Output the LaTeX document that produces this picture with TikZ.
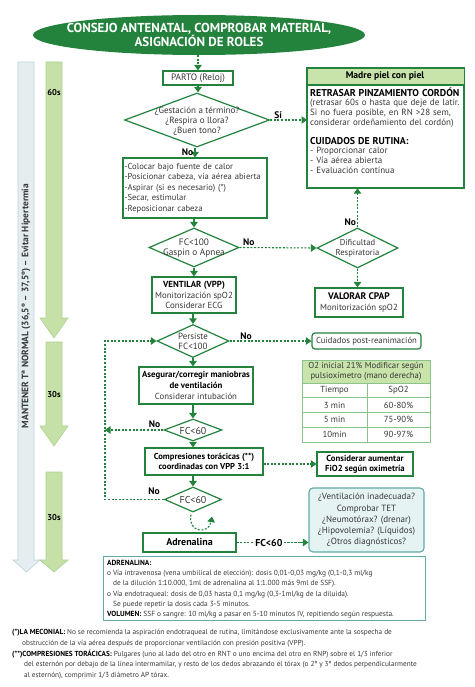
\documentclass[tikz,border=0pt]{standalone}
\usepackage{fontspec}
\setmainfont{PT Sans}
\usetikzlibrary{shapes.geometric,arrows.meta,calc}
\definecolor{dg}{RGB}{35,130,60}
\definecolor{lg}{RGB}{200,228,170}
\definecolor{tgrid}{RGB}{140,195,140}
\definecolor{tl}{RGB}{95,170,170}
\definecolor{tlf}{RGB}{230,243,243}
\definecolor{bb}{RGB}{228,238,241}
\definecolor{bbd}{RGB}{190,210,218}
\definecolor{ga}{RGB}{198,225,168}
\definecolor{gad}{RGB}{172,210,140}
\definecolor{tx}{RGB}{55,55,55}
\begin{document}
\begin{tikzpicture}[x=1pt,y=-1pt,
  box/.style={draw=dg,line width=1.2pt,fill=white,inner sep=0pt,align=center,text=tx,font=\fontsize{9}{10.5}\selectfont},
  dia/.style={diamond,draw=dg,line width=1.2pt,fill=white,inner sep=0pt},
  dtext/.style={align=center,text=tx,font=\fontsize{9}{10}\selectfont,inner sep=0pt},
  arr/.style={draw=dg,line width=1.5pt,-{Triangle[length=5.5pt,width=7.5pt]}},
  darr/.style={draw=dg,line width=1.1pt,dash pattern=on 2pt off 1.6pt,-{Triangle[length=5.5pt,width=7.5pt]}},
  dline/.style={draw=dg,line width=1.1pt,dash pattern=on 2pt off 1.6pt},
  lbl/.style={font=\bfseries\fontsize{9.5}{10}\selectfont,text=black,inner sep=1pt},
  secl/.style={font=\bfseries\fontsize{8.5}{10}\selectfont,text=black},
  garrow/.style={fill=ga,draw=gad,line width=0.6pt}]
\useasboundingbox (0,0) rectangle (474,687);

% left column
\draw[fill=bb,draw=bbd,line width=0.6pt] (18,62) -- (34,62) -- (34,560) -- (40,560) -- (26.5,572) -- (13,560) -- (18,560) -- cycle;
\node[rotate=90,font=\bfseries\fontsize{9.4}{11}\selectfont,text=tx] (mt) at (26,306) {MANTENER Tª NORMAL (36,5º – 37,5º) – Evitar Hipertermia};
\foreach \a/\b/\c in {62/318/338,342/426/446,472/560/572}
  \draw[garrow] (46,\a) -- (62,\a) -- (62,\b) -- (68,\b) -- (54,\c) -- (40,\b) -- (46,\b) -- cycle;
\node[secl] (s1) at (54,93) {60s};
\node[secl] (s2) at (54,395) {30s};
\node[secl] (s3) at (54,518) {30s};

% top ellipse
\node[ellipse,fill=dg,minimum width=332,minimum height=40,inner sep=0pt] (top) at (199,35) {};
\node[text=white,align=center,font=\bfseries\fontsize{13}{14.5}\selectfont] (toptext) at (199,35) {CONSEJO ANTENATAL, COMPROBAR MATERIAL,\\ASIGNACIÓN DE ROLES};

% main column
\node[box,minimum width=70,minimum height=14,font=\fontsize{9.3}{10}\selectfont] (parto) at (198,78) {PARTO (Reloj)};
\node[dia,minimum width=145,minimum height=54] (d1) at (197,120) {};
\node[dtext] (d1t) at (197,121) {¿Gestación a término?\\¿Respira o llora?\\¿Buen tono?};
\node[box,minimum width=144,minimum height=60,align=left,text width=141,font=\fontsize{8.6}{10.5}\selectfont] (b2) at (195,188) {-Colocar bajo fuente de calor\\-Posicionar cabeza, vía aérea abierta\\-Aspirar (si es necesario) (*)\\-Secar, estimular\\-Reposicionar cabeza};
\node[dia,minimum width=90,minimum height=39] (d2) at (194,247.5) {};
\node[dtext,font=\fontsize{9.3}{10.5}\selectfont] (d2t) at (194,248) {FC<100\\Gaspin o Apnea};
\node[box,minimum width=84,minimum height=36,font=\fontsize{8.8}{10.5}\selectfont] (ve) at (194,295) {\textbf{\color{black}VENTILAR (VPP)}\\Monitorización spO2\\Considerar ECG};
\node[dia,minimum width=72,minimum height=33] (pe) at (193,341) {};
\node[dtext] (pet) at (193,341.5) {Persiste\\FC<100};
\node[box,minimum width=114,minimum height=37,font=\fontsize{8.8}{10.8}\selectfont] (as) at (196,385.5) {\textbf{\color{black}Asegurar/corregir maniobras}\\\textbf{\color{black}de ventilación}\\Considerar intubación};
\node[dia,minimum width=58,minimum height=22] (f1) at (193,430) {};
\node[dtext,font=\fontsize{10}{11}\selectfont] (f1t) at (193,430.5) {FC<60};
\node[box,minimum width=118,minimum height=27,text=black,font=\bfseries\fontsize{8.6}{10.5}\selectfont] (co) at (204,461.5) {Compresiones torácicas (**)\\coordinadas con VPP 3:1};
\node[dia,minimum width=57,minimum height=25] (f2) at (193,499.5) {};
\node[dtext,font=\fontsize{10}{11}\selectfont] (f2t) at (193,500) {FC<60};
\node[box,minimum width=93,minimum height=19,text=black,font=\bfseries\fontsize{10}{11}\selectfont] (ad) at (189.5,542.5) {Adrenalina};

% right column
\node[draw=dg,line width=1.2pt,minimum width=156,minimum height=119,inner sep=0pt,anchor=north west] (mp) at (307,68) {};
\fill[lg] ([shift={(0.6pt,-0.6pt)}]mp.north west) rectangle ([shift={(-0.6pt,0pt)}]$(mp.north east)+(0,17)$);
\draw[dg,line width=1.2pt] ($(mp.north west)+(0,17)$) -- ($(mp.north east)+(0,17)$);
\draw[draw=dg,line width=1.2pt] (mp.north west) rectangle (mp.south east);
\node[font=\bfseries\fontsize{9.6}{10}\selectfont,text=black] (mph) at (385,76.5) {Madre piel con piel};
\node[anchor=north west,align=left,text width=158,inner sep=0pt,text=tx,font=\fontsize{9}{9.6}\selectfont] (mpt) at (310,87.5) {{\bfseries\color{black}\fontsize{9.9}{9.6}\selectfont RETRASAR PINZAMIENTO CORDÓN}\\(retrasar 60s o hasta que deje de latir.\\Si no fuera posible, en RN >28 sem,\\considerar ordeñamiento del cordón)\\[9.6pt]{\bfseries\color{black}\fontsize{9.9}{9.6}\selectfont CUIDADOS DE RUTINA:}\\- Proporcionar calor\\- Vía aérea abierta\\- Evaluación contínua};

\node[dia,minimum width=81,minimum height=40] (dr) at (357.5,248) {};
\node[dtext,font=\fontsize{8.6}{10}\selectfont] (drt) at (357.5,248.5) {Dificultad\\Respiratoria};
\node[box,minimum width=88,minimum height=29,font=\fontsize{8.8}{11}\selectfont] (cp) at (359,302.5) {{\bfseries\color{black}\fontsize{9.5}{11}\selectfont VALORAR CPAP}\\Monitorización spO2};
\node[box,rounded corners=3pt,minimum width=109,minimum height=16,font=\fontsize{8.7}{10}\selectfont] (cu) at (366.5,341) {Cuidados post-reanimación};

% table
\fill[lg] (302,360) rectangle (430,383);
\draw[tgrid,line width=1pt] (302,360) rectangle (430,442);
\foreach \yy in {383,397.75,412.5,427.25} \draw[tgrid,line width=1pt] (302,\yy) -- (430,\yy);
\draw[tgrid,line width=1pt] (367,383) -- (367,442);
\node[align=center,text=tx,font=\fontsize{8.7}{10.2}\selectfont] (th) at (366,371.5) {O2 inicial 21\% Modificar según\\pulsioxímetro (mano derecha)};
\foreach \yy/\ta/\tb [count=\i] in {390.4/Tiempo/SpO2,405.1/3 min/60-80\%,419.9/5 min/75-90\%,434.6/10min/90-97\%}{
  \node[text=tx,font=\fontsize{8.8}{10}\selectfont] (ta\i) at (334.5,\yy) {\ta};
  \node[text=tx,font=\fontsize{8.8}{10}\selectfont] (tb\i) at (398.5,\yy) {\tb};
}

\node[box,minimum width=96,minimum height=24,text=black,font=\bfseries\fontsize{8.7}{10.2}\selectfont] (fi) at (365,464) {Considerar aumentar\\FiO2 según oximetría};
\node[draw=tl,fill=tlf,line width=1.1pt,rounded corners=4pt,minimum width=115,minimum height=64,inner sep=0pt,align=center,text=tx,font=\fontsize{9}{11.2}\selectfont] (tb) at (366.5,520) {¿Ventilación inadecuada?\\Comprobar TET\\¿Neumotórax? (drenar)\\¿Hipovolemia? (Líquidos)\\¿Otros diagnósticos?};

% info box
\node[draw=tl,line width=1.1pt,minimum width=322,minimum height=64,inner sep=0pt,anchor=north west] (ib) at (103,556) {};
\node[anchor=north west,align=left,inner sep=0pt,text=tx,font=\fontsize{7.4}{10.2}\selectfont] (ibt) at (107,560) {{\bfseries\color{black}ADRENALINA:}\\o Vía intravenosa (vena umbilical de elección): dosis 0,01-0,03 mg/kg (0,1-0,3 ml/kg\\\hphantom{o }de la dilución 1:10.000, 1ml de adrenalina al 1:1.000 más 9ml de SSF).\\o Vía endotraqueal: dosis de 0,03 hasta 0,1 mg/kg (0,3-1ml/kg de la diluida).\\\hphantom{o }Se puede repetir la dosis cada 3-5 minutos.\\{\bfseries\color{black}VOLUMEN:} SSF o sangre: 10 ml/kg a pasar en 5-10 minutos IV, repitiendo según respuesta.};

% footnotes
\node[anchor=north west,align=left,inner sep=0pt,text=tx,font=\fontsize{7.3}{10.8}\selectfont] (fn) at (12,629) {{\bfseries\color{black}(*)LA MECONIAL:} No se recomienda la aspiración endotraqueal de rutina, limitándose exclusivamente ante la sospecha de\\\hspace*{10pt}obstrucción de la vía aérea después de proporcionar ventilación con presión positiva (VPP).\\{\bfseries\color{black}(**)COMPRESIONES TORÁCICAS:} Pulgares (uno al lado del otro en RNT o uno encima del otro en RNP) sobre el 1/3 inferior\\\hspace*{12pt}del esternón por debajo de la línea intermamilar, y resto de los dedos abrazando el tórax (o 2º y 3º dedos perpendicularmente\\\hspace*{12pt}al esternón), comprimir 1/3 diámetro AP tórax.};

% connectors
\draw[darr] (top.south -| parto) -- (parto.north);
\draw[arr] (parto.south) -- (parto.south |- d1.north);
\draw[darr] (d1.east) -- (d1.east -| mp.west) node[lbl,pos=0.22,above] {Sí};
\draw[arr] (d1.south -| b2) -- (b2.north) node[lbl,pos=0.45,left] {No};
\draw[arr] (b2.south -| d2) -- (d2.north);
\draw[darr] (d2.east) -- (dr.west) node[lbl,pos=0.12,above] {No};
\draw[darr] (dr.north) -- (dr.north |- mp.south) node[lbl,pos=0.12,left] {No};
\draw[darr] (dr.south) -- (dr.south |- cp.north);
\draw[arr] (d2.south) -- (d2.south |- ve.north);
\draw[arr] (ve.south -| pe) -- (pe.north);
\draw[darr] (pe.east) -- (cu.west) node[lbl,pos=0.2,above] {No};
\draw[arr] (pe.south) -- (pe.south |- as.north);
\draw[arr] (as.south -| f1) -- (f1.north);
\coordinate (lx) at (105,430);
\draw[darr] (f1.west) -- (f1.west -| lx) node[lbl,pos=0.15,above=1pt] {No};
\draw[arr] (f1.south) -- (f1.south |- co.north);
\draw[darr] (co.east |- fi.west) -- (fi.west);
\draw[arr] (co.south -| f2) -- (f2.north);
\draw[darr] (f2.west) -- (f2.west -| lx) -- (pe.west -| lx) -- (pe.west);
\node[lbl] (no5) at (154,491) {No};
\draw[darr] ($(f2.south)+(-2,2)$) .. controls ($(f2.south)+(-6,20)$) and ($(f2.south)+(16,22)$) .. ($(f2.south)+(19,4)$);
\draw[dline] (ad.east) -- (tb.west |- ad.east) node[lbl,pos=0.45,fill=white,font=\bfseries\fontsize{10}{11}\selectfont] (fcl) {FC<60};
\draw[darr] (fcl.east) -- (tb.west |- ad.east);
\end{tikzpicture}
\end{document}
